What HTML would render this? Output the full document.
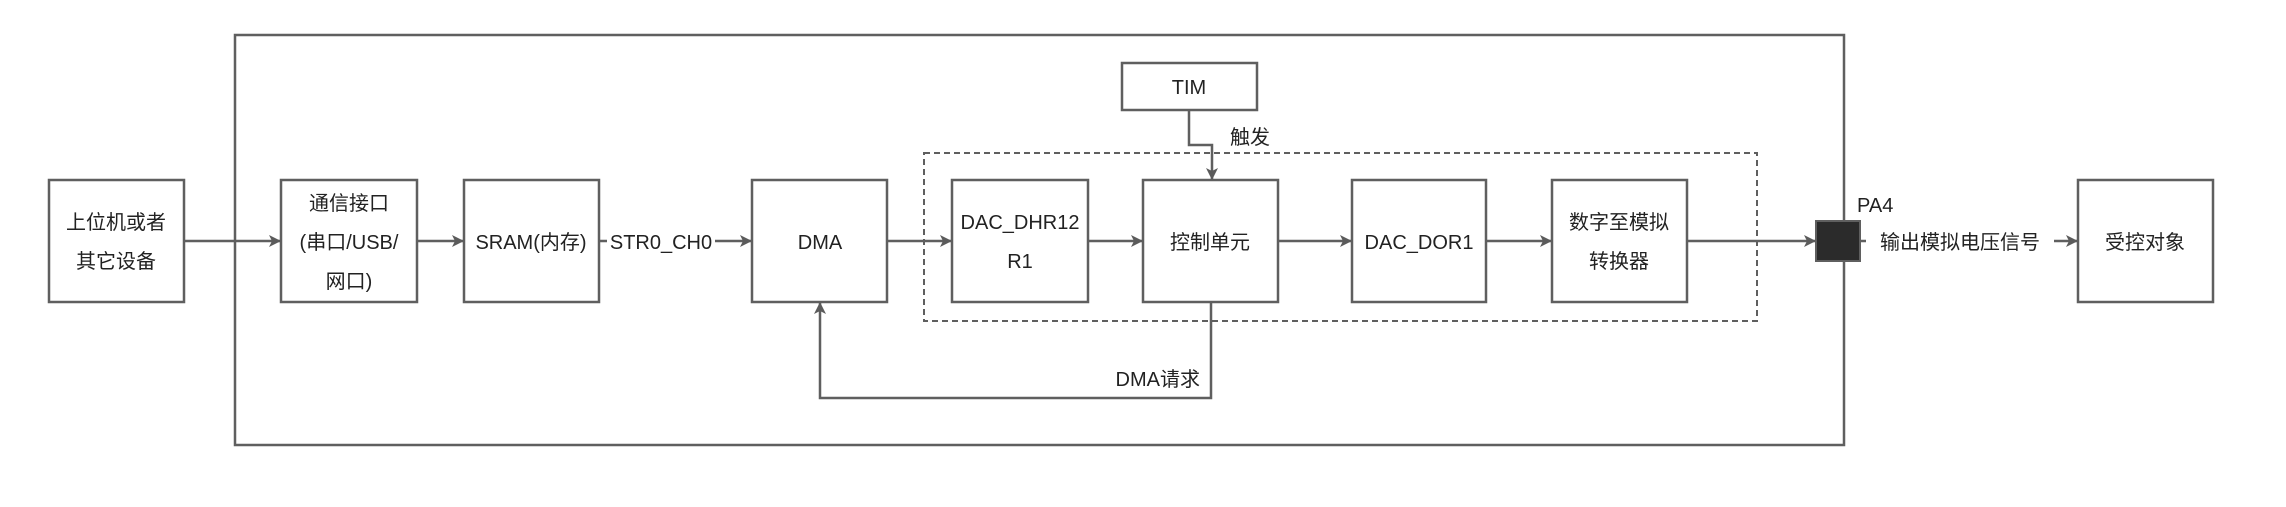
<!DOCTYPE html>
<html><head><meta charset="utf-8"><style>
html,body{margin:0;padding:0;background:#fff;}
svg{display:block;}
text{font-family:"Liberation Sans","Noto Sans CJK SC",sans-serif;font-size:20px;fill:#222;}
</style></head><body>
<svg width="2286" height="507" viewBox="0 0 2286 507" xmlns="http://www.w3.org/2000/svg">
<defs>
<marker id="a" markerWidth="10" markerHeight="10" refX="9" refY="5" orient="auto" markerUnits="userSpaceOnUse">
<path d="M0,0 L10,5 L0,10 L2.5,5 Z" fill="#5b5b5b"/>
</marker>
<marker id="b" markerWidth="12" markerHeight="12" refX="11" refY="6" orient="auto" markerUnits="userSpaceOnUse">
<path d="M0,0 L12,6 L0,12 L3,6 Z" fill="#5b5b5b"/>
</marker>
</defs>
<g fill="none" stroke="#5f5f5f" stroke-width="2.5">
<rect x="235" y="35" width="1609" height="410"/>
<rect x="924" y="153" width="833" height="168" stroke-dasharray="6,4" stroke-width="2"/>
<rect x="49" y="180" width="135" height="122" fill="#fff"/>
<rect x="281" y="180" width="136" height="122" fill="#fff"/>
<rect x="464" y="180" width="135" height="122" fill="#fff"/>
<rect x="752" y="180" width="135" height="122" fill="#fff"/>
<rect x="952" y="180" width="136" height="122" fill="#fff"/>
<rect x="1143" y="180" width="135" height="122" fill="#fff"/>
<rect x="1352" y="180" width="134" height="122" fill="#fff"/>
<rect x="1552" y="180" width="135" height="122" fill="#fff"/>
<rect x="2078" y="180" width="135" height="122" fill="#fff"/>
<rect x="1122" y="63" width="135" height="47" fill="#fff"/>
<g marker-end="url(#b)">
<path d="M184,241 H280"/>
<path d="M417,241 H463"/>
<path d="M599,241 H751"/>
<path d="M887,241 H951"/>
<path d="M1088,241 H1142"/>
<path d="M1278,241 H1351"/>
<path d="M1486,241 H1551"/>
<path d="M1687,241 H1815"/>
<path d="M1860,241 H2077"/>
<path d="M1189,110 V145 H1212 V179"/>
<path d="M1211,302 V398 H820 V303"/>
</g>
</g>
<rect x="1816" y="221" width="44" height="40" fill="#2b2b2b" stroke="#5f5f5f" stroke-width="2"/>
<rect x="607" y="228" width="108" height="26" fill="#fff"/>
<rect x="1866" y="228" width="188" height="26" fill="#fff"/>
<g text-anchor="middle">
<text x="116" y="229">上位机或者</text>
<text x="116" y="268">其它设备</text>
<text x="349" y="210">通信接口</text>
<text x="349" y="249">(串口/USB/</text>
<text x="349" y="288">网口)</text>
<text x="531" y="249">SRAM(内存)</text>
<text x="661" y="249">STR0_CH0</text>
<text x="820" y="249">DMA</text>
<text x="1020" y="229">DAC_DHR12</text>
<text x="1020" y="268">R1</text>
<text x="1210" y="249">控制单元</text>
<text x="1419" y="249">DAC_DOR1</text>
<text x="1619" y="229">数字至模拟</text>
<text x="1619" y="268">转换器</text>
<text x="2145" y="249">受控对象</text>
<text x="1189" y="94">TIM</text>
<text x="1960" y="249">输出模拟电压信号</text>
</g>
<text x="1230" y="144">触发</text>
<text x="1857" y="212">PA4</text>
<text x="1200" y="386" text-anchor="end">DMA请求</text>
</svg>
</body></html>
